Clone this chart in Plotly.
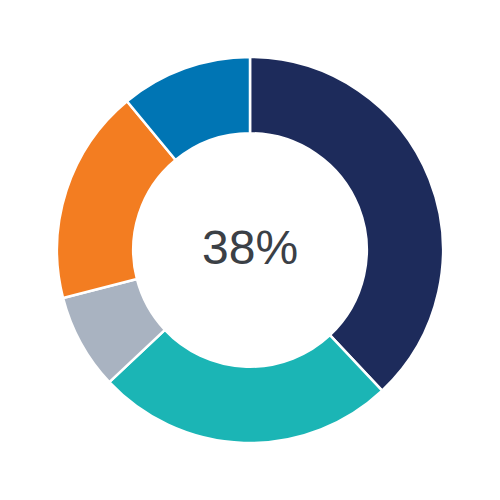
import plotly.graph_objects as go

labels = ["Navy", "Teal", "Gray", "Orange", "Blue"]
values = [38, 25, 8, 18, 11]
colors = ["#1d2b5b", "#1bb5b5", "#a9b3c1", "#f37d21", "#0075b4"]
center_text = "38%"

fig = go.Figure(
    go.Pie(
        labels=labels,
        values=values,
        hole=0.605,
        sort=False,
        direction="clockwise",
        rotation=0,
        marker=dict(colors=colors, line=dict(color="white", width=2.5)),
        textinfo="none",
        hoverinfo="label+percent",
    )
)

fig.add_annotation(
    text=center_text,
    x=0.5, y=0.5, xref="paper", yref="paper",
    yshift=3,
    showarrow=False,
    font=dict(family="Liberation Sans, Arial", size=48, color="#3b4046"),
)

# page body has an 8px margin, so shift the plot area back up/left
fig.update_layout(
    width=500, height=500,
    margin=dict(l=49, r=65, t=48, b=64),
    showlegend=False,
    paper_bgcolor="white",
    plot_bgcolor="white",
)

fig.write_html("out.html")
